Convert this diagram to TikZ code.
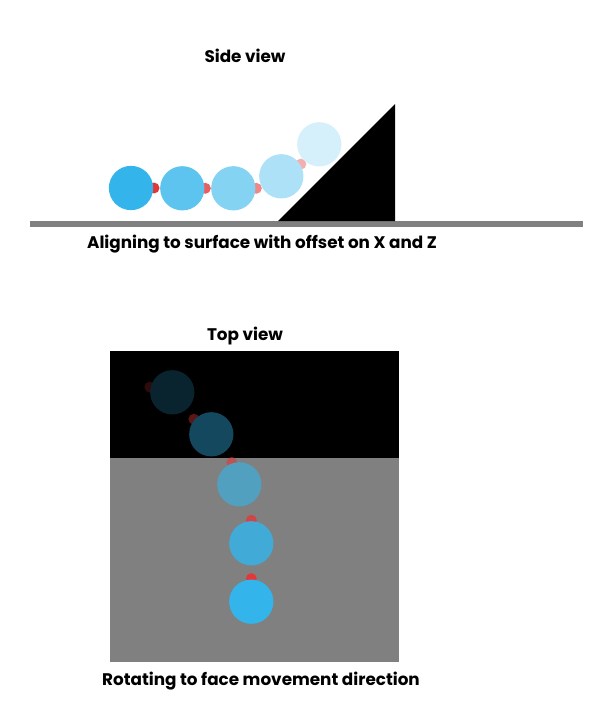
\documentclass[tikz,border=0pt]{standalone}
\usepackage{fontspec}
\setmainfont{Poppins}
\definecolor{ballblue}{RGB}{51,181,235}
\definecolor{nosered}{RGB}{228,56,56}
\definecolor{floorgray}{RGB}{128,128,128}
\begin{document}
\begin{tikzpicture}[
      x=0.75pt, y=-0.75pt,
      caption/.style={font=\fontsize{12.6}{15}\selectfont\bfseries, inner sep=0pt},
      nose/.style={fill=nosered},
      ]
      \useasboundingbox[fill=white] (0,0) rectangle (600,711);
      % side view
      \node[caption] (sidetitle) at (245,56) {Side view};
      \fill[floorgray] (30,221) rectangle (583,227);
      \fill[black] (278,221) -- (395,104) -- (395,221) -- cycle;
      \foreach \x/\y/\a/\o in {131/188/0/100, 182.3/188.3/0/80, 233.3/188.3/0/60, 281.3/176.3/32/40} {
        \fill[nose, fill opacity=\o/100] ([shift={(\a:17.3pt)}]\x,\y) circle[radius=4.1pt];
        \fill[ballblue!\o!white] (\x,\y) circle[radius=16.6pt];
      }
      \fill[ballblue!20!white] (319.3,144.3) circle[radius=16.6pt];
      \node[caption] (sidetext) at (262,244) {Aligning to surface with offset on X and Z};
      % top view
      \node[caption] (toptitle) at (245,336) {Top view};
      \fill[black] (110,351) rectangle (399,458);
      \fill[floorgray] (110,458) rectangle (399,662);
      \foreach \x/\y/\a/\o/\bg in {172.3/392.3/167/20/black, 211.3/434.3/139/40/black,
          239.3/484.3/109/60/floorgray, 251.3/543.3/90/80/floorgray, 251.3/601.7/90/100/floorgray} {
        \fill[nose, fill opacity=\o/100] ([shift={(\a:17.3pt)}]\x,\y) circle[radius=4.1pt];
        \fill[ballblue!\o!\bg] (\x,\y) circle[radius=16.6pt];
      }
      \node[caption] (toptext) at (261,681) {Rotating to face movement direction};
    \end{tikzpicture}
\end{document}
